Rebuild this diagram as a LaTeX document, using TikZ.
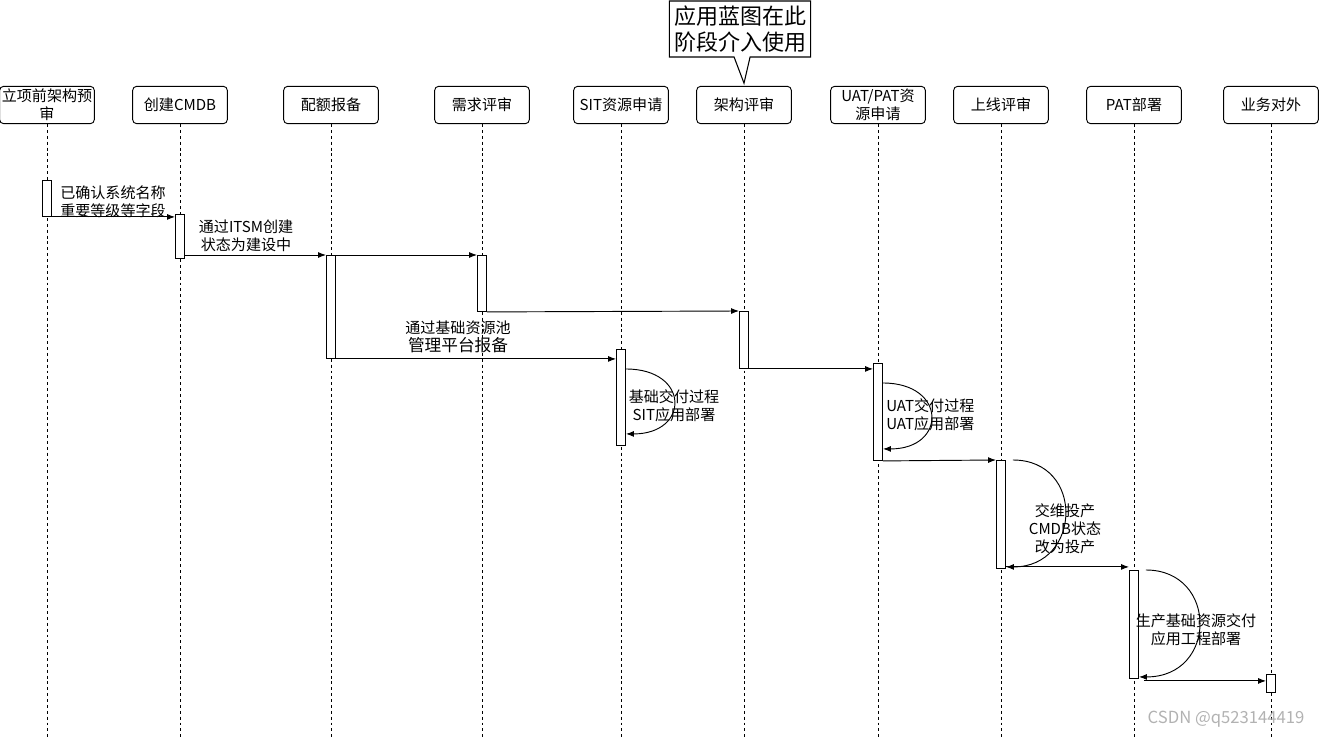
\documentclass[tikz,border=0pt]{standalone}
\usepackage{fontspec}
\setmainfont{Noto Sans CJK SC}
\usetikzlibrary{arrows.meta,positioning,calc,shapes.callouts}
\newcommand{\lblfont}{\fontsize{11.3}{13.5}\selectfont}
\tikzset{
  actor/.style={rectangle, rounded corners=3pt, draw=black, line width=0.7pt, fill=white,
                align=center, font=\lblfont, minimum width=71pt, minimum height=28pt, inner sep=1pt},
  actbar/.style={rectangle, draw=black, line width=0.7pt, fill=white, minimum width=6.75pt,
                 inner sep=0pt, anchor=north},
  lifeline/.style={line width=0.5pt, dash pattern=on 2.2pt off 2.2pt},
  msg/.style={-{Latex[length=6pt,width=4.5pt]}, line width=0.7pt},
  lbl/.style={align=center, font=\lblfont, inner sep=0pt},
  note/.style={rectangle callout, draw=black, line width=0.8pt, fill=white, align=center,
               font=\fontsize{16.5}{19}\selectfont, minimum width=106pt, minimum height=42pt,
               inner sep=2pt, callout pointer width=12pt},
}

\begin{document}
\begin{tikzpicture}[x=0.75pt, y=-0.75pt]
  \useasboundingbox (0,0) rectangle (1320,737);
  \coordinate (bottom) at (0,737);

  % participants
  \node[actor] (pre)    at (47,105)   {立项前架构预\\审};
  \node[actor] (cmdb)   at (180,105)  {创建CMDB};
  \node[actor] (quota)  at (331,105)  {配额报备};
  \node[actor] (req)    at (482,105)  {需求评审};
  \node[actor] (sit)    at (621,105)  {SIT资源申请};
  \node[actor] (arch)   at (744,105)  {架构评审};
  \node[actor] (uat)    at (878,105)  {UAT/PAT资\\源申请};
  \node[actor] (golive) at (1001,105) {上线评审};
  \node[actor] (pat)    at (1134,105) {PAT部署};
  \node[actor] (biz)    at (1271,105) {业务对外};

  \node[note, callout absolute pointer={([yshift=2pt]arch.north)}] (bp) at (740,29)
    {应用蓝图在此\\阶段介入使用};

  % lifelines
  \foreach \p in {pre,cmdb,quota,req,sit,arch,uat,golive,pat,biz}
    \draw[lifeline] (\p.south) -- (\p.south |- bottom);

  % activations
  \node[actbar, minimum height=27pt]    (pre-b)    at (47,180)   {};
  \node[actbar, minimum height=33pt]    (cmdb-b)   at (180,214)  {};
  \node[actbar, minimum height=77.25pt] (quota-b)  at (331,255)  {};
  \node[actbar, minimum height=42pt]    (req-b)    at (482,255)  {};
  \node[actbar, minimum height=42.75pt] (arch-b)   at (744,311)  {};
  \node[actbar, minimum height=72pt]    (sit-b)    at (621,349)  {};
  \node[actbar, minimum height=72.75pt] (uat-b)    at (878,363)  {};
  \node[actbar, minimum height=81pt]    (golive-b) at (1001,460) {};
  \node[actbar, minimum height=81pt]    (pat-b)    at (1134,570) {};
  \node[actbar, minimum height=13.5pt]  (biz-b)    at (1271,674) {};

  % self-call ends
  \coordinate (sit-s)    at ($(sit-b.north east)+(0,20)$);
  \coordinate (sit-e)    at ($(sit-b.south east)+(0,-12)$);
  \coordinate (uat-s)    at ($(uat-b.north east)+(0,20)$);
  \coordinate (uat-e)    at ($(uat-b.south east)+(0,-12)$);
  \coordinate (golive-s) at ($(golive-b.north east)+(7,0)$);
  \coordinate (golive-e) at ($(golive-b.south east)+(0,-2)$);
  \coordinate (pat-s)    at ($(pat-b.north east)+(7,0)$);
  \coordinate (pat-e)    at ($(pat-b.south east)+(0,-2)$);
  \coordinate (pat-o)    at ($(pat-b.south east)+(5,2)$);

  % messages
  \draw[msg] (pre-b.south east) -- (pre-b.south east -| cmdb-b.west);
  \node[lbl, align=left, anchor=west] (m1) at (60,202) {已确认系统名称\\重要等级等字段};
  \draw[msg] (quota-b.north west -| cmdb-b.east) -- (quota-b.north west);
  \node[lbl] (m2) at (246,236) {通过ITSM创建\\状态为建设中};
  \draw[msg] (quota-b.north east) -- (req-b.north west);
  \draw[msg] (req-b.south east) -- (arch-b.north west);
  \draw[msg] (quota-b.south east) -- (quota-b.south east -| sit-b.west);
  \node[lbl] (m5) at (458,337) {通过基础资源池\\{\fontsize{12.5}{14}\selectfont 管理平台报备}};
  \draw[msg] (sit-s) .. controls +(64,0) and +(64,0) .. (sit-e);
  \node[lbl] (m6) at (674,406) {基础交付过程\\SIT应用部署};
  \draw[msg] (arch-b.south east) -- (arch-b.south east -| uat-b.west);
  \draw[msg] (uat-s) .. controls +(64,0) and +(64,0) .. (uat-e);
  \node[lbl, align=left, anchor=west] (m8) at (886,415) {UAT交付过程\\UAT应用部署};
  \draw[msg] (uat-b.south east) -- (golive-b.north west);
  \draw[msg] (golive-s) .. controls +(72,0) and +(76,0) .. (golive-e);
  \node[lbl] (m10) at (1065,529) {交维投产\\CMDB状态\\改为投产};
  \draw[msg] (golive-e) -- (golive-e -| pat-b.west);
  \draw[msg] (pat-s) .. controls +(72,0) and +(79,0) .. (pat-e);
  \node[lbl] (m12) at (1196,630) {生产基础资源交付\\应用工程部署};
  \draw[msg] (pat-o) -- (pat-o -| biz-b.west);

  \node[lbl, text=gray!60, font=\fontsize{12.5}{14}\selectfont] (wm) at (1226,719) {CSDN @q523144419};
\end{tikzpicture}
\end{document}
